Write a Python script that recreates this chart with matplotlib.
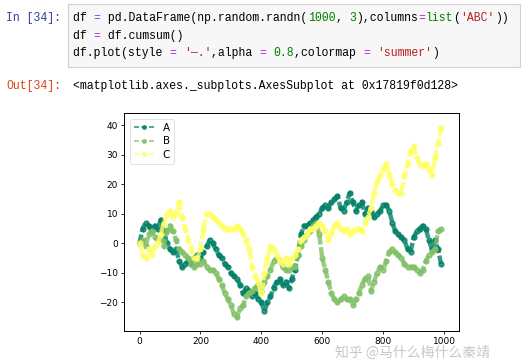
import numpy as np
import matplotlib.pyplot as plt

# valores (cada 10 pasos)
steps = list(range(0, 1000, 10))

A = [0, 5, 7, 6, 4, 6, 5, 8, 4, 0,
     -2, -3, -2, -6, -8, -7, -6, -7, -5, -4,
     -5, -3, -1, 1, 0, -2, -4, -5, -7, -8,
     -10, -11, -12, -14, -17, -15, -16, -18, -17, -19,
     -20, -23, -20, -18, -15, -13, -12, -14, -13, -15,
     -12, -9, -4, 3, 6, 6, 7, 8, 9, 10,
     12, 13, 12, 14, 15, 16, 12, 11, 14, 17,
     14, 11, 13, 14, 10, 12, 11, 9, 10, 11,
     13, 13, 11, 7, 4, 3, 2, 1, -2, -3,
     2, 4, 5, 6, 5, 1, -2, 1, -2, -7]

B = [0, 1, -1, 3, 4, 2, 1, 1, -1, 4,
     6, 4, 1, -2, -3, -4, -5, -7, -8, -7,
     -7, -6, -8, -9, -9, -10, -12, -14, -17, -19,
     -21, -24, -25, -22, -21, -18, -17, -16, -15, -14,
     -16, -13, -11, -9, -6, -5, -6, -8, -9, -9,
     -8, -8, -4, -1, 1, 3, 4, 6, 7, 3,
     -5, -9, -13, -17, -19, -20, -19, -18, -19, -19,
     -21, -19, -17, -14, -12, -11, -16, -13, -10, -8,
     -9, -6, -3, -2, -3, -4, -5, -7, -8, -8,
     -8, -9, -10, -9, -6, -4, -3, -2, 4, 5]

C = [0, -4, -5, -2, -4, -1, 0, 3, 7, 10,
     11, 9, 10, 14, 9, 5, 1, -2, -5, -5,
     -2, 5, 10, 10, 9, 8, 7, 6, 5, 5,
     5, 5, 6, 5, 3, 1, -2, -8, -11, -13,
     -17, -10, -5, -1, -2, -4, -6, -7, -5, -7,
     -5, -4, -2, 1, 2, 3, 5, 5, 6, 7,
     6, 4, 1, 3, 6, 7, 5, 4, 5, 3,
     4, 5, 5, 4, 7, 9, 12, 17, 21, 23,
     25, 27, 23, 20, 18, 17, 17, 23, 27, 31,
     33, 29, 27, 26, 27, 25, 23, 29, 34, 39]

series = {'A': A, 'B': B, 'C': C}

fig = plt.figure(figsize=(5.21, 3.61), dpi=100)
W, H = 521, 361

# ---- celda del notebook ----
mono = 'Liberation Mono'
fs = 8.3
cw = 0.6 * fs / 72 * 100  # ancho de un carácter en px

box = plt.Rectangle((68 / W, 1 - 67 / H), (W - 69) / W, 63 / H,
                    transform=fig.transFigure, facecolor='#f7f7f7',
                    edgecolor='#cfcfcf', linewidth=0.8)
fig.patches.append(box)

def code_line(x0, y, parts):
    x = x0
    for txt, col in parts:
        fig.text(x / W, 1 - y / H, txt, family=mono, fontsize=fs, color=col,
                 va='center', ha='left')
        x += len(txt) * cw

k, op, num, st = '#000000', '#AA22FF', '#008000', '#BA2121'
fig.text(6 / W, 1 - 18 / H, 'In [34]:', family=mono, fontsize=fs,
         color='#303F9F', va='center')
code_line(73, 18, [('df ', k), ('=', op), (' pd.DataFrame(np.random.randn(', k),
                   ('1000', num), (', ', k), ('3', num), ('),columns', k),
                   ('=', op), ('list', num), ('(', k), ("'ABC'", st), ('))', k)])
code_line(73, 36, [('df ', k), ('=', op), (' df.cumsum()', k)])
code_line(73, 53, [('df.plot(style ', k), ('=', op), (' ', k), ("'—.'", st),
                   (',alpha ', k), ('=', op), (' ', k), ('0.8', num),
                   (',colormap ', k), ('=', op), (' ', k), ("'summer'", st),
                   (')', k)])
fig.text(6 / W, 1 - 86 / H, 'Out[34]:', family=mono, fontsize=fs,
         color='#D84315', va='center')
fig.text(73 / W, 1 - 86 / H,
         '<matplotlib.axes._subplots.AxesSubplot at 0x17819f0d128>',
         family=mono, fontsize=fs, color='#000000', va='center')

# ---- gráfico ----
ax = fig.add_axes([124.3 / W, 1 - 331 / H, 335 / W, 217.7 / H])
cmap = plt.get_cmap('summer')
colors = cmap(np.linspace(0, 1, 3))
for i, (name, vals) in enumerate(series.items()):
    ax.plot(steps, vals, '--.', color=colors[i], alpha=0.8, label=name,
            linewidth=3.2, markersize=7, dashes=(2, 0.6))

ax.set_xlim(-50, 1050)
ax.set_ylim(-29.7, 44)
ax.set_xticks([0, 200, 400, 600, 800, 1000])
ax.set_yticks([-20, -10, 0, 10, 20, 30, 40])
ax.tick_params(labelsize=6.5, length=2.5, width=0.6, pad=2)
for s in ax.spines.values():
    s.set_linewidth(0.7)
leg = ax.legend(loc='upper left', fontsize=7.5, handlelength=2,
                borderpad=0.4, labelspacing=0.35)
leg.get_frame().set_linewidth(0.5)
for h in leg.get_lines():
    h.set_linewidth(1.2)
    h.set_markersize(5)
    h.set_dashes((3, 1.5))

# marca de agua
fig.text(335 / W, 1 - 353 / H, '知乎 @马什么梅什么秦靖',
         family=['Noto Sans CJK SC', 'DejaVu Sans'], fontsize=10,
         color='#bbbbbb', alpha=0.8, va='center')

plt.savefig('out.png', dpi=100)
